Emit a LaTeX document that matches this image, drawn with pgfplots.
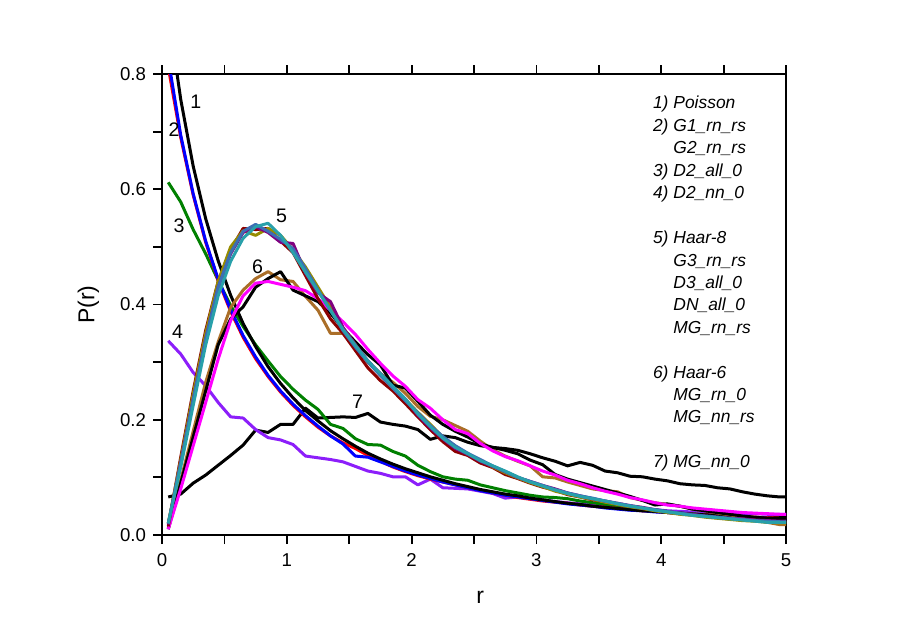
\documentclass[border=0pt]{standalone}
\usepackage{fontspec}
\setmainfont{Liberation Sans}
\usepackage{pgfplots}
\pgfplotsset{compat=1.18}

\definecolor{cMaroon}{RGB}{140,0,0}
\definecolor{cOlive}{RGB}{150,140,0}
\definecolor{cPurple}{RGB}{128,0,128}
\definecolor{cSteel}{RGB}{60,110,180}
\definecolor{cTeal}{RGB}{40,160,170}
\definecolor{cBrown}{RGB}{170,110,40}
\definecolor{cViolet}{RGB}{140,30,250}
\definecolor{cGreen}{RGB}{0,128,0}
\definecolor{cMagenta}{RGB}{255,0,255}
\definecolor{cRed}{RGB}{255,0,0}
\definecolor{cBlue}{RGB}{0,0,255}

\tikzset{
  cnum/.style={inner sep=0pt, font=\fontsize{9.8}{11}\selectfont},
  num/.style={anchor=base east, inner sep=0pt, font=\fontsize{8.7}{10}\selectfont\itshape},
  txt/.style={anchor=base west, inner sep=0pt, font=\fontsize{8.7}{10}\selectfont\itshape},
}

\begin{document}
\begin{tikzpicture}
\path[use as bounding box] (-81pt,-53.5pt) rectangle (375.5pt,267.5pt);
\begin{axis}[
    at={(0,0)}, anchor=south west,
    width=312pt, height=230.5pt, scale only axis,
    xmin=0, xmax=5, ymin=0, ymax=0.8,
    xtick={0,1,2,3,4,5},
    ytick={0,0.2,0.4,0.6,0.8},
    minor x tick num=1, minor y tick num=1,
    tick align=outside,
    xtick pos=both, ytick pos=left,
    xticklabel pos=bottom,
    major tick length=4.5pt, minor tick length=4.5pt,
    every tick/.style={black, line width=0.9pt},
    axis line style={line width=1pt},
    /pgf/number format/assume math mode=true,
    tick label style={font=\fontsize{9.3}{11}\selectfont},
    yticklabel style={/pgf/number format/fixed, /pgf/number format/precision=1,
                      /pgf/number format/fixed zerofill},
    xticklabel style={yshift=-1.2pt},
    xlabel={r}, ylabel={P(r)},
    label style={font=\fontsize{11.5}{13}\selectfont},
    xlabel style={at={(rel axis cs:0.51,-0.1345)}, anchor=center},
    ylabel style={at={(rel axis cs:-0.118,0.5)}, anchor=center},
    every axis plot/.append style={line width=1.5pt, line join=round, no marks},
    clip=true,
  ]
  % 7) MG_nn_0
  \addplot[black] coordinates {
    (0.05,0.066)(0.15,0.071)(0.25,0.090)(0.35,0.104)(0.45,0.121)(0.55,0.138)(0.65,0.156)(0.75,0.182)(0.85,0.178)(0.95,0.192)
    (1.05,0.192)(1.15,0.220)(1.25,0.203)(1.35,0.204)(1.45,0.205)(1.55,0.204)(1.65,0.211)(1.75,0.196)(1.85,0.192)(1.95,0.189)
    (2.05,0.183)(2.15,0.166)(2.25,0.172)(2.35,0.169)(2.45,0.161)(2.55,0.155)(2.65,0.152)(2.75,0.150)(2.85,0.147)(2.95,0.141)
    (3.05,0.134)(3.15,0.128)(3.25,0.120)(3.35,0.126)(3.45,0.121)(3.55,0.111)(3.65,0.108)(3.75,0.102)(3.85,0.101)(3.95,0.097)
    (4.05,0.094)(4.15,0.089)(4.25,0.087)(4.35,0.086)(4.45,0.082)(4.55,0.080)(4.65,0.075)(4.75,0.071)(4.85,0.068)(4.95,0.066)
    (5.00,0.066)
  };
  % 4) D2_nn_0
  \addplot[cViolet] coordinates {
    (0.05,0.337)(0.15,0.314)(0.25,0.282)(0.35,0.259)(0.45,0.230)(0.55,0.205)(0.65,0.203)(0.75,0.183)(0.85,0.169)(0.95,0.165)
    (1.05,0.157)(1.15,0.137)(1.25,0.134)(1.35,0.131)(1.45,0.127)(1.55,0.119)(1.65,0.111)(1.75,0.107)(1.85,0.101)(1.95,0.101)
    (2.05,0.087)(2.15,0.097)(2.25,0.082)(2.35,0.081)(2.45,0.080)(2.55,0.076)(2.65,0.072)(2.75,0.064)(2.85,0.066)(2.95,0.063)
    (3.05,0.061)(3.15,0.058)(3.25,0.056)(3.35,0.054)(3.45,0.052)(3.55,0.050)(3.65,0.049)(3.75,0.047)(3.85,0.045)(3.95,0.044)
    (4.05,0.042)(4.15,0.041)(4.25,0.040)(4.35,0.039)(4.45,0.038)(4.55,0.038)(4.65,0.037)(4.75,0.037)(4.85,0.036)(4.95,0.036)
    (5.00,0.036)
  };
  % 3) D2_all_0
  \addplot[cGreen] coordinates {
    (0.05,0.612)(0.15,0.578)(0.25,0.530)(0.35,0.488)(0.45,0.442)(0.55,0.398)(0.65,0.362)(0.75,0.330)(0.85,0.302)(0.95,0.275)
    (1.05,0.253)(1.15,0.234)(1.25,0.218)(1.35,0.192)(1.45,0.185)(1.55,0.167)(1.65,0.157)(1.75,0.156)(1.85,0.145)(1.95,0.137)
    (2.05,0.121)(2.15,0.110)(2.25,0.101)(2.35,0.097)(2.45,0.095)(2.55,0.087)(2.65,0.082)(2.75,0.077)(2.85,0.073)(2.95,0.069)
    (3.05,0.066)(3.15,0.065)(3.25,0.063)(3.35,0.059)(3.45,0.056)(3.55,0.053)(3.65,0.050)(3.75,0.047)(3.85,0.044)(3.95,0.042)
    (4.05,0.040)(4.15,0.038)(4.25,0.037)(4.35,0.035)(4.45,0.033)(4.55,0.031)(4.65,0.029)(4.75,0.027)(4.85,0.025)(4.95,0.023)
    (5.00,0.023)
  };
  % 2) G1_rn_rs
  \addplot[cRed] coordinates {
    (0.05,0.812)(0.15,0.690)(0.25,0.590)(0.35,0.508)(0.45,0.442)(0.55,0.388)(0.65,0.343)(0.75,0.306)(0.85,0.275)(0.95,0.248)
    (1.05,0.225)(1.15,0.205)(1.25,0.187)(1.35,0.172)(1.45,0.160)(1.55,0.150)(1.65,0.138)(1.75,0.128)(1.85,0.118)(1.95,0.110)
    (2.05,0.103)(2.15,0.097)(2.25,0.092)(2.35,0.087)(2.45,0.082)(2.55,0.078)(2.65,0.073)(2.75,0.069)(2.85,0.065)(2.95,0.062)
    (3.05,0.059)(3.15,0.057)(3.25,0.055)(3.35,0.052)(3.45,0.050)(3.55,0.048)(3.65,0.046)(3.75,0.044)(3.85,0.042)(3.95,0.041)
    (4.05,0.039)(4.15,0.037)(4.25,0.036)(4.35,0.035)(4.45,0.034)(4.55,0.033)(4.65,0.032)(4.75,0.031)(4.85,0.030)(4.95,0.030)
    (5.00,0.030)
  };
  % G2_rn_rs
  \addplot[cBlue] coordinates {
    (0.05,0.826)(0.15,0.694)(0.25,0.592)(0.35,0.510)(0.45,0.444)(0.55,0.391)(0.65,0.346)(0.75,0.309)(0.85,0.277)(0.95,0.250)
    (1.05,0.227)(1.15,0.207)(1.25,0.189)(1.35,0.172)(1.45,0.158)(1.55,0.137)(1.65,0.135)(1.75,0.127)(1.85,0.119)(1.95,0.111)
    (2.05,0.104)(2.15,0.098)(2.25,0.092)(2.35,0.087)(2.45,0.082)(2.55,0.077)(2.65,0.073)(2.75,0.069)(2.85,0.066)(2.95,0.063)
    (3.05,0.060)(3.15,0.057)(3.25,0.054)(3.35,0.052)(3.45,0.050)(3.55,0.047)(3.65,0.045)(3.75,0.043)(3.85,0.042)(3.95,0.040)
    (4.05,0.039)(4.15,0.037)(4.25,0.036)(4.35,0.034)(4.45,0.033)(4.55,0.032)(4.65,0.031)(4.75,0.030)(4.85,0.029)(4.95,0.028)
    (5.00,0.028)
  };
  % 1) Poisson
  \addplot[black] coordinates {
    (0.05,0.907)(0.15,0.756)(0.25,0.640)(0.35,0.549)(0.45,0.476)(0.55,0.416)(0.65,0.367)(0.75,0.327)(0.85,0.292)(0.95,0.263)
    (1.05,0.238)(1.15,0.216)(1.25,0.198)(1.35,0.181)(1.45,0.167)(1.55,0.154)(1.65,0.142)(1.75,0.132)(1.85,0.123)(1.95,0.115)
    (2.05,0.108)(2.15,0.101)(2.25,0.095)(2.35,0.089)(2.45,0.084)(2.55,0.079)(2.65,0.075)(2.75,0.071)(2.85,0.068)(2.95,0.064)
    (3.05,0.061)(3.15,0.058)(3.25,0.055)(3.35,0.053)(3.45,0.050)(3.55,0.048)(3.65,0.046)(3.75,0.044)(3.85,0.042)(3.95,0.041)
    (4.05,0.039)(4.15,0.038)(4.25,0.036)(4.35,0.035)(4.45,0.034)(4.55,0.032)(4.65,0.031)(4.75,0.030)(4.85,0.029)(4.95,0.028)
    (5.00,0.028)
  };
  % MG_nn_rs
  \addplot[cBrown] coordinates {
    (0.05,0.012)(0.15,0.095)(0.25,0.180)(0.35,0.265)(0.45,0.335)(0.55,0.395)(0.65,0.425)(0.75,0.445)(0.85,0.457)(0.95,0.443)
    (1.05,0.440)(1.15,0.414)(1.25,0.390)(1.35,0.350)(1.45,0.350)(1.55,0.327)(1.65,0.300)(1.75,0.280)(1.85,0.265)(1.95,0.246)
    (2.05,0.223)(2.15,0.206)(2.25,0.200)(2.35,0.190)(2.45,0.180)(2.55,0.163)(2.65,0.148)(2.75,0.137)(2.85,0.128)(2.95,0.120)
    (3.05,0.101)(3.15,0.099)(3.25,0.092)(3.35,0.086)(3.45,0.080)(3.55,0.077)(3.65,0.075)(3.75,0.065)(3.85,0.060)(3.95,0.056)
    (4.05,0.053)(4.15,0.050)(4.25,0.045)(4.35,0.042)(4.45,0.038)(4.55,0.035)(4.65,0.031)(4.75,0.027)(4.85,0.022)(4.95,0.018)
    (5.00,0.018)
  };
  % MG_rn_0
  \addplot[black] coordinates {
    (0.05,0.010)(0.15,0.090)(0.25,0.170)(0.35,0.250)(0.45,0.330)(0.55,0.375)(0.65,0.396)(0.75,0.430)(0.85,0.445)(0.95,0.457)
    (1.05,0.425)(1.15,0.415)(1.25,0.405)(1.35,0.385)(1.45,0.358)(1.55,0.335)(1.65,0.313)(1.75,0.295)(1.85,0.260)(1.95,0.255)
    (2.05,0.232)(2.15,0.208)(2.25,0.192)(2.35,0.180)(2.45,0.170)(2.55,0.158)(2.65,0.152)(2.75,0.147)(2.85,0.141)(2.95,0.130)
    (3.05,0.122)(3.15,0.105)(3.25,0.097)(3.35,0.091)(3.45,0.085)(3.55,0.079)(3.65,0.073)(3.75,0.067)(3.85,0.060)(3.95,0.052)
    (4.05,0.054)(4.15,0.050)(4.25,0.045)(4.35,0.042)(4.45,0.039)(4.55,0.036)(4.65,0.033)(4.75,0.031)(4.85,0.029)(4.95,0.030)
    (5.00,0.030)
  };
  % 6) Haar-6
  \addplot[cMagenta] coordinates {
    (0.05,0.010)(0.15,0.080)(0.25,0.155)(0.35,0.230)(0.45,0.305)(0.55,0.372)(0.65,0.415)(0.75,0.437)(0.85,0.440)(0.95,0.435)
    (1.05,0.430)(1.15,0.424)(1.25,0.410)(1.35,0.390)(1.45,0.370)(1.55,0.348)(1.65,0.322)(1.75,0.298)(1.85,0.276)(1.95,0.258)
    (2.05,0.235)(2.15,0.220)(2.25,0.200)(2.35,0.183)(2.45,0.176)(2.55,0.159)(2.65,0.146)(2.75,0.136)(2.85,0.129)(2.95,0.120)
    (3.05,0.111)(3.15,0.104)(3.25,0.095)(3.35,0.089)(3.45,0.082)(3.55,0.076)(3.65,0.071)(3.75,0.065)(3.85,0.061)(3.95,0.056)
    (4.05,0.052)(4.15,0.050)(4.25,0.047)(4.35,0.045)(4.45,0.043)(4.55,0.041)(4.65,0.039)(4.75,0.038)(4.85,0.037)(4.95,0.036)
    (5.00,0.036)
  };
  % 5) Haar-8 group
  \addplot[cMaroon] coordinates {
    (0.05,0.015)(0.15,0.135)(0.25,0.250)(0.35,0.355)(0.45,0.440)(0.55,0.495)(0.65,0.532)(0.75,0.530)(0.85,0.532)(0.95,0.510)
    (1.05,0.490)(1.15,0.450)(1.25,0.410)(1.35,0.375)(1.45,0.350)(1.55,0.320)(1.65,0.290)(1.75,0.268)(1.85,0.250)(1.95,0.228)
    (2.05,0.205)(2.15,0.183)(2.25,0.162)(2.35,0.145)(2.45,0.138)(2.55,0.125)(2.65,0.117)(2.75,0.105)(2.85,0.098)(2.95,0.090)
    (3.05,0.083)(3.15,0.078)(3.25,0.070)(3.35,0.066)(3.45,0.061)(3.55,0.058)(3.65,0.053)(3.75,0.050)(3.85,0.046)(3.95,0.043)
    (4.05,0.040)(4.15,0.037)(4.25,0.035)(4.35,0.032)(4.45,0.030)(4.55,0.028)(4.65,0.027)(4.75,0.025)(4.85,0.023)(4.95,0.022)
    (5.00,0.022)
  };
  \addplot[cOlive] coordinates {
    (0.05,0.020)(0.15,0.130)(0.25,0.245)(0.35,0.350)(0.45,0.440)(0.55,0.500)(0.65,0.528)(0.75,0.520)(0.85,0.532)(0.95,0.520)
    (1.05,0.495)(1.15,0.465)(1.25,0.430)(1.35,0.395)(1.45,0.360)(1.55,0.330)(1.65,0.300)(1.75,0.278)(1.85,0.255)(1.95,0.235)
    (2.05,0.213)(2.15,0.192)(2.25,0.170)(2.35,0.154)(2.45,0.140)(2.55,0.130)(2.65,0.118)(2.75,0.108)(2.85,0.099)(2.95,0.091)
    (3.05,0.084)(3.15,0.076)(3.25,0.071)(3.35,0.066)(3.45,0.062)(3.55,0.057)(3.65,0.053)(3.75,0.049)(3.85,0.046)(3.95,0.042)
    (4.05,0.039)(4.15,0.036)(4.25,0.034)(4.35,0.031)(4.45,0.029)(4.55,0.027)(4.65,0.025)(4.75,0.024)(4.85,0.022)(4.95,0.021)
    (5.00,0.021)
  };
  \addplot[cPurple] coordinates {
    (0.05,0.018)(0.15,0.125)(0.25,0.235)(0.35,0.340)(0.45,0.430)(0.55,0.488)(0.65,0.525)(0.75,0.535)(0.85,0.525)(0.95,0.508)
    (1.05,0.506)(1.15,0.455)(1.25,0.420)(1.35,0.405)(1.45,0.360)(1.55,0.330)(1.65,0.302)(1.75,0.280)(1.85,0.257)(1.95,0.236)
    (2.05,0.208)(2.15,0.186)(2.25,0.167)(2.35,0.150)(2.45,0.140)(2.55,0.128)(2.65,0.119)(2.75,0.110)(2.85,0.100)(2.95,0.093)
    (3.05,0.086)(3.15,0.080)(3.25,0.073)(3.35,0.068)(3.45,0.063)(3.55,0.059)(3.65,0.055)(3.75,0.051)(3.85,0.048)(3.95,0.044)
    (4.05,0.041)(4.15,0.038)(4.25,0.036)(4.35,0.033)(4.45,0.031)(4.55,0.029)(4.65,0.028)(4.75,0.026)(4.85,0.025)(4.95,0.024)
    (5.00,0.024)
  };
  \addplot[cSteel] coordinates {
    (0.05,0.020)(0.15,0.125)(0.25,0.235)(0.35,0.340)(0.45,0.430)(0.55,0.490)(0.65,0.527)(0.75,0.539)(0.85,0.527)(0.95,0.513)
    (1.05,0.497)(1.15,0.462)(1.25,0.425)(1.35,0.390)(1.45,0.355)(1.55,0.326)(1.65,0.300)(1.75,0.277)(1.85,0.255)(1.95,0.233)
    (2.05,0.212)(2.15,0.190)(2.25,0.171)(2.35,0.155)(2.45,0.142)(2.55,0.131)(2.65,0.120)(2.75,0.110)(2.85,0.100)(2.95,0.093)
    (3.05,0.086)(3.15,0.079)(3.25,0.073)(3.35,0.068)(3.45,0.064)(3.55,0.059)(3.65,0.055)(3.75,0.051)(3.85,0.047)(3.95,0.044)
    (4.05,0.041)(4.15,0.038)(4.25,0.035)(4.35,0.033)(4.45,0.031)(4.55,0.029)(4.65,0.027)(4.75,0.025)(4.85,0.024)(4.95,0.023)
    (5.00,0.023)
  };
  \addplot[cTeal] coordinates {
    (0.05,0.020)(0.15,0.118)(0.25,0.225)(0.35,0.330)(0.45,0.415)(0.55,0.475)(0.65,0.515)(0.75,0.535)(0.85,0.541)(0.95,0.520)
    (1.05,0.490)(1.15,0.456)(1.25,0.423)(1.35,0.390)(1.45,0.357)(1.55,0.329)(1.65,0.302)(1.75,0.280)(1.85,0.258)(1.95,0.236)
    (2.05,0.210)(2.15,0.188)(2.25,0.168)(2.35,0.152)(2.45,0.141)(2.55,0.129)(2.65,0.120)(2.75,0.111)(2.85,0.101)(2.95,0.092)
    (3.05,0.085)(3.15,0.078)(3.25,0.072)(3.35,0.067)(3.45,0.063)(3.55,0.059)(3.65,0.054)(3.75,0.050)(3.85,0.047)(3.95,0.043)
    (4.05,0.040)(4.15,0.037)(4.25,0.034)(4.35,0.032)(4.45,0.030)(4.55,0.028)(4.65,0.026)(4.75,0.024)(4.85,0.022)(4.95,0.022)
    (5.00,0.022)
  };

  % curve numbers
  \node[cnum] at (axis cs:0.272,0.751) {1};
  \node[cnum] at (axis cs:0.096,0.703) {2};
  \node[cnum] at (axis cs:0.136,0.536) {3};
  \node[cnum] at (axis cs:0.124,0.353) {4};
  \node[cnum] at (axis cs:0.958,0.553) {5};
  \node[cnum] at (axis cs:0.766,0.466) {6};
  \node[cnum] at (axis cs:1.568,0.231) {7};

  % legend text
  \node[num] at (axis cs:4.062,0.7396) {1)};
  \node[txt] at (axis cs:4.095,0.7396) {Poisson};
  \node[num] at (axis cs:4.062,0.7005) {2)};
  \node[txt] at (axis cs:4.095,0.7005) {G1\_rn\_rs};
  \node[txt] at (axis cs:4.095,0.6615) {G2\_rn\_rs};
  \node[num] at (axis cs:4.062,0.6224) {3)};
  \node[txt] at (axis cs:4.095,0.6224) {D2\_all\_0};
  \node[num] at (axis cs:4.062,0.5833) {4)};
  \node[txt] at (axis cs:4.095,0.5833) {D2\_nn\_0};
  \node[num] at (axis cs:4.062,0.5052) {5)};
  \node[txt] at (axis cs:4.095,0.5052) {Haar-8};
  \node[txt] at (axis cs:4.095,0.4661) {G3\_rn\_rs};
  \node[txt] at (axis cs:4.095,0.4271) {D3\_all\_0};
  \node[txt] at (axis cs:4.095,0.3889) {DN\_all\_0};
  \node[txt] at (axis cs:4.095,0.3498) {MG\_rn\_rs};
  \node[num] at (axis cs:4.062,0.2708) {6)};
  \node[txt] at (axis cs:4.095,0.2708) {Haar-6};
  \node[txt] at (axis cs:4.095,0.2326) {MG\_rn\_0};
  \node[txt] at (axis cs:4.095,0.1944) {MG\_nn\_rs};
  \node[num] at (axis cs:4.062,0.1163) {7)};
  \node[txt] at (axis cs:4.095,0.1163) {MG\_nn\_0};
\end{axis}
\end{tikzpicture}
\end{document}
